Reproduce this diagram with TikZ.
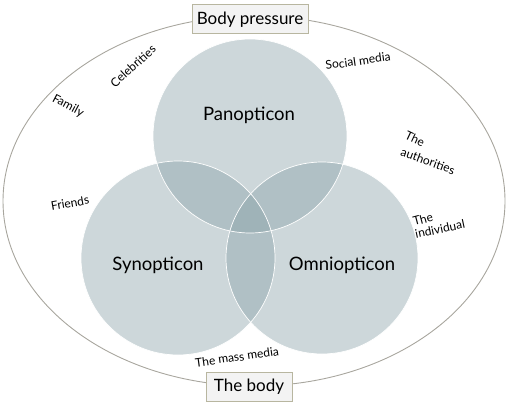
\documentclass[tikz,border=0pt]{standalone}
\usepackage{fontspec}
\setmainfont{Lato}
\definecolor{vennfill}{RGB}{136,160,167}
\definecolor{ringgray}{RGB}{168,166,158}
\definecolor{boxedge}{RGB}{184,182,160}
\definecolor{boxfill}{RGB}{243,243,243}
\begin{document}
\begin{tikzpicture}[x=1pt,y=-1pt,
  venn/.style={fill=vennfill,fill opacity=0.42,draw=none},
  vennedge/.style={draw=white,line width=0.7pt},
  biglabel/.style={font=\fontsize{18.5}{18.5}\selectfont,text=black},
  smalllabel/.style={font=\fontsize{12}{13.5}\selectfont,text=black,inner sep=0pt,align=center},
  titlebox/.style={draw=boxedge,fill=boxfill,line width=1pt,font=\fontsize{17}{17}\selectfont,minimum height=29pt,inner xsep=4pt}
]
\useasboundingbox (0,0) rectangle (510,406);
% outer ring
\draw[ringgray,line width=0.9pt] (254,201) ellipse [x radius=251,y radius=185];
% circles
\fill[venn] (250,136) circle (97);
\fill[venn] (178,258) circle (97);
\fill[venn] (322,258) circle (96);
\draw[vennedge] (250,136) circle (97);
\draw[vennedge] (178,258) circle (97);
\draw[vennedge] (322,258) circle (96);
% main labels
\node[biglabel] (pan) at (249,115) {Panopticon};
\node[biglabel] (syn) at (158,265) {Synopticon};
\node[biglabel] (omn) at (342,265) {Omniopticon};
% boxes
\node[titlebox,minimum width=116pt] (bp) at (250,19.5) {Body pressure};
\node[titlebox,minimum width=86pt] (tb) at (249,386.5) {The body};
% small labels
\node[smalllabel,rotate=42] (cel) at (133,66) {Celebrities};
\node[smalllabel,rotate=-28] (fam) at (68,106) {Family};
\node[smalllabel,rotate=8] (soc) at (358,61) {Social media};
\node[smalllabel,rotate=-25] (the1) at (415,139) {The};
\node[smalllabel,rotate=-20] (auth) at (428,161) {authorities};
\node[smalllabel,rotate=10] (fri) at (70,203) {Friends};
\node[smalllabel,rotate=15] (the2) at (423,219) {The};
\node[smalllabel,rotate=12] (ind) at (440,229) {individual};
\node[smalllabel,rotate=8] (mass) at (237,357) {The mass media};
\end{tikzpicture}
\end{document}
